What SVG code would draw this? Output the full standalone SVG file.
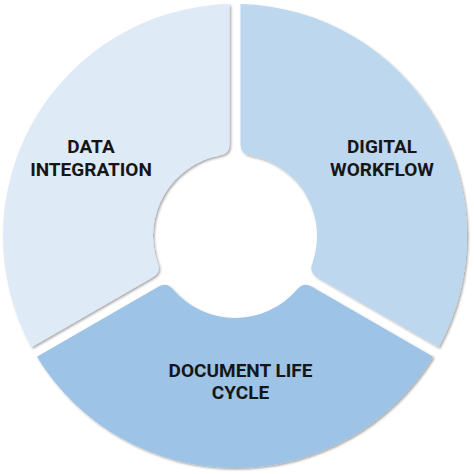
<svg xmlns="http://www.w3.org/2000/svg" width="474" height="474" viewBox="0 0 474 474">
  <defs>
    <filter id="sh" x="-10%" y="-10%" width="120%" height="120%">
      <feDropShadow dx="1.5" dy="1.5" stdDeviation="1.2" flood-color="#000" flood-opacity="0.35"/>
    </filter>
    <style>
      .seg { filter: url(#sh); }
      .lbl { font-family: Roboto, "Liberation Sans", Arial, sans-serif; font-weight: 700; font-size: 19px; fill: #161616; text-anchor: middle; }
    </style>
  </defs>
  <rect width="474" height="474" fill="#ffffff"/>
  <g id="data-integration">
    <path class="seg" fill="#DEEBF7" d="M 152.736 277.145 L 31.388 347.205 A 232 232 0 0 1 229.5 4.065 L 229.5 144.185 Q 229.5 154.185 219.571 155.465 A 82 82 0 0 0 157.538 262.904 Q 161.396 272.145 152.736 277.145 Z"/>
    <text class="lbl" x="91" y="153">DATA</text>
    <text class="lbl" x="91" y="176">INTEGRATION</text>
  </g>
  <g id="digital-workflow">
    <path class="seg" fill="#BDD7EE" d="M 240.5 144.185 L 240.5 4.065 A 232 232 0 0 1 438.612 347.205 L 317.264 277.145 Q 308.604 272.145 312.462 262.904 A 82 82 0 0 0 250.429 155.465 Q 240.5 154.185 240.5 144.185 Z"/>
    <text class="lbl" x="382" y="153">DIGITAL</text>
    <text class="lbl" x="382" y="176">WORKFLOW</text>
  </g>
  <g id="document-life-cycle">
    <path class="seg" fill="#9DC3E6" d="M 311.764 286.671 L 433.112 356.731 A 232 232 0 0 1 36.888 356.731 L 158.236 286.671 Q 166.896 281.671 172.959 289.618 A 82 82 0 0 0 297.041 289.618 Q 303.104 281.671 311.764 286.671 Z"/>
    <text class="lbl" x="240.5" y="377">DOCUMENT LIFE</text>
    <text class="lbl" x="240.5" y="399">CYCLE</text>
  </g>
  <g id="connectors"/>
</svg>
